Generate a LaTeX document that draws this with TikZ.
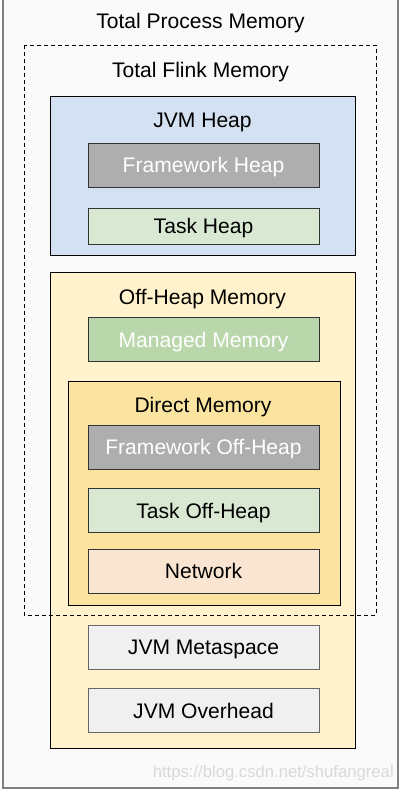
\documentclass[tikz,border=0pt]{standalone}
\usepackage{fontspec}
\setmainfont{Liberation Sans}
\usepackage{xcolor}

\definecolor{outerfill}{HTML}{FAFAFA}
\definecolor{heapblue}{HTML}{D4E1F2}
\definecolor{fwgray}{HTML}{AEAEAE}
\definecolor{taskgreen}{HTML}{D9E8D3}
\definecolor{mangreen}{HTML}{B9D7AB}
\definecolor{offyellow}{HTML}{FFF2CC}
\definecolor{directyellow}{HTML}{FBE4A0}
\definecolor{netpeach}{HTML}{FAE5D3}
\definecolor{jvmgray}{HTML}{F0F0F0}

\tikzset{
  memtext/.style={inner sep=0.75pt, text height=11.3pt, text depth=0pt, font=\fontsize{15.8pt}{19pt}\selectfont},
  membox/.style={draw=black!80, line width=0.75pt, minimum width=173.25pt, minimum height=33pt, inner sep=0pt, text height=11.3pt, text depth=0pt, font=\fontsize{15.8pt}{19pt}\selectfont},
}

\begin{document}
\begin{tikzpicture}[x=0.75pt,y=0.75pt,yscale=-1,xscale=1]
\useasboundingbox (0,0) rectangle (404,790);
%Outer box: total process memory
\draw [draw=black!50, line width=1.5pt, fill=outerfill] (3,-2) rectangle (398,788) ;
%Dashed box: total flink memory
\draw  [dash pattern={on 3pt off 2.25pt}, line width=0.75pt]  (24,45) rectangle (376,615) ;
%JVM heap container
\draw  [fill=heapblue, line width=0.75pt] (50,96) rectangle (355,255) ;
%Off-heap container
\draw  [fill=offyellow, line width=0.75pt] (50,272) rectangle (355,748) ;
%Direct memory container
\draw  [fill=directyellow, line width=0.75pt] (68,381) rectangle (340,605) ;
%redraw dashed line over the off-heap box
\draw  [dash pattern={on 3pt off 2.25pt}, line width=0.75pt]  (24,45) rectangle (376,615) ;

% Text Node
\draw (200.5,21) node [memtext] (totproc) {Total Process Memory};
% Text Node
\draw (200.5,70) node [memtext] (totflink) {Total Flink Memory};
% Text Node
\draw (202.5,120) node [memtext] (jvmheap) {JVM Heap};
% Text Node
\draw (202.5,297) node [memtext] (offheap) {Off-Heap Memory};
% Text Node
\draw (203,405) node [memtext] (direct) {Direct Memory};

%Inner boxes
\node [membox, fill=fwgray, text=white] (fwheap) at (203.5,165) {Framework Heap};
\node [membox, fill=taskgreen, minimum height=27pt] (taskheap) at (203.5,226) {Task Heap};
\node [membox, fill=mangreen, text=white] (managed) at (203.5,339.5) {Managed Memory};
\node [membox, fill=fwgray, text=white] (fwoff) at (203.5,447) {Framework Off-Heap};
\node [membox, fill=taskgreen] (taskoff) at (203.5,510.5) {Task Off-Heap};
\node [membox, fill=netpeach] (network) at (203.5,571) {Network};
\node [membox, fill=jvmgray, draw=black!60] (metaspace) at (203.5,647) {JVM Metaspace};
\node [membox, fill=jvmgray, draw=black!60] (overhead) at (203.5,710.5) {JVM Overhead};

% Text Node
\draw (395,773) node [anchor=east, inner sep=0.75pt, text=black!15, font=\fontsize{12.5pt}{14pt}\selectfont] (mark) {https://blog.csdn.net/shufangreal};
\end{tikzpicture}
\end{document}
